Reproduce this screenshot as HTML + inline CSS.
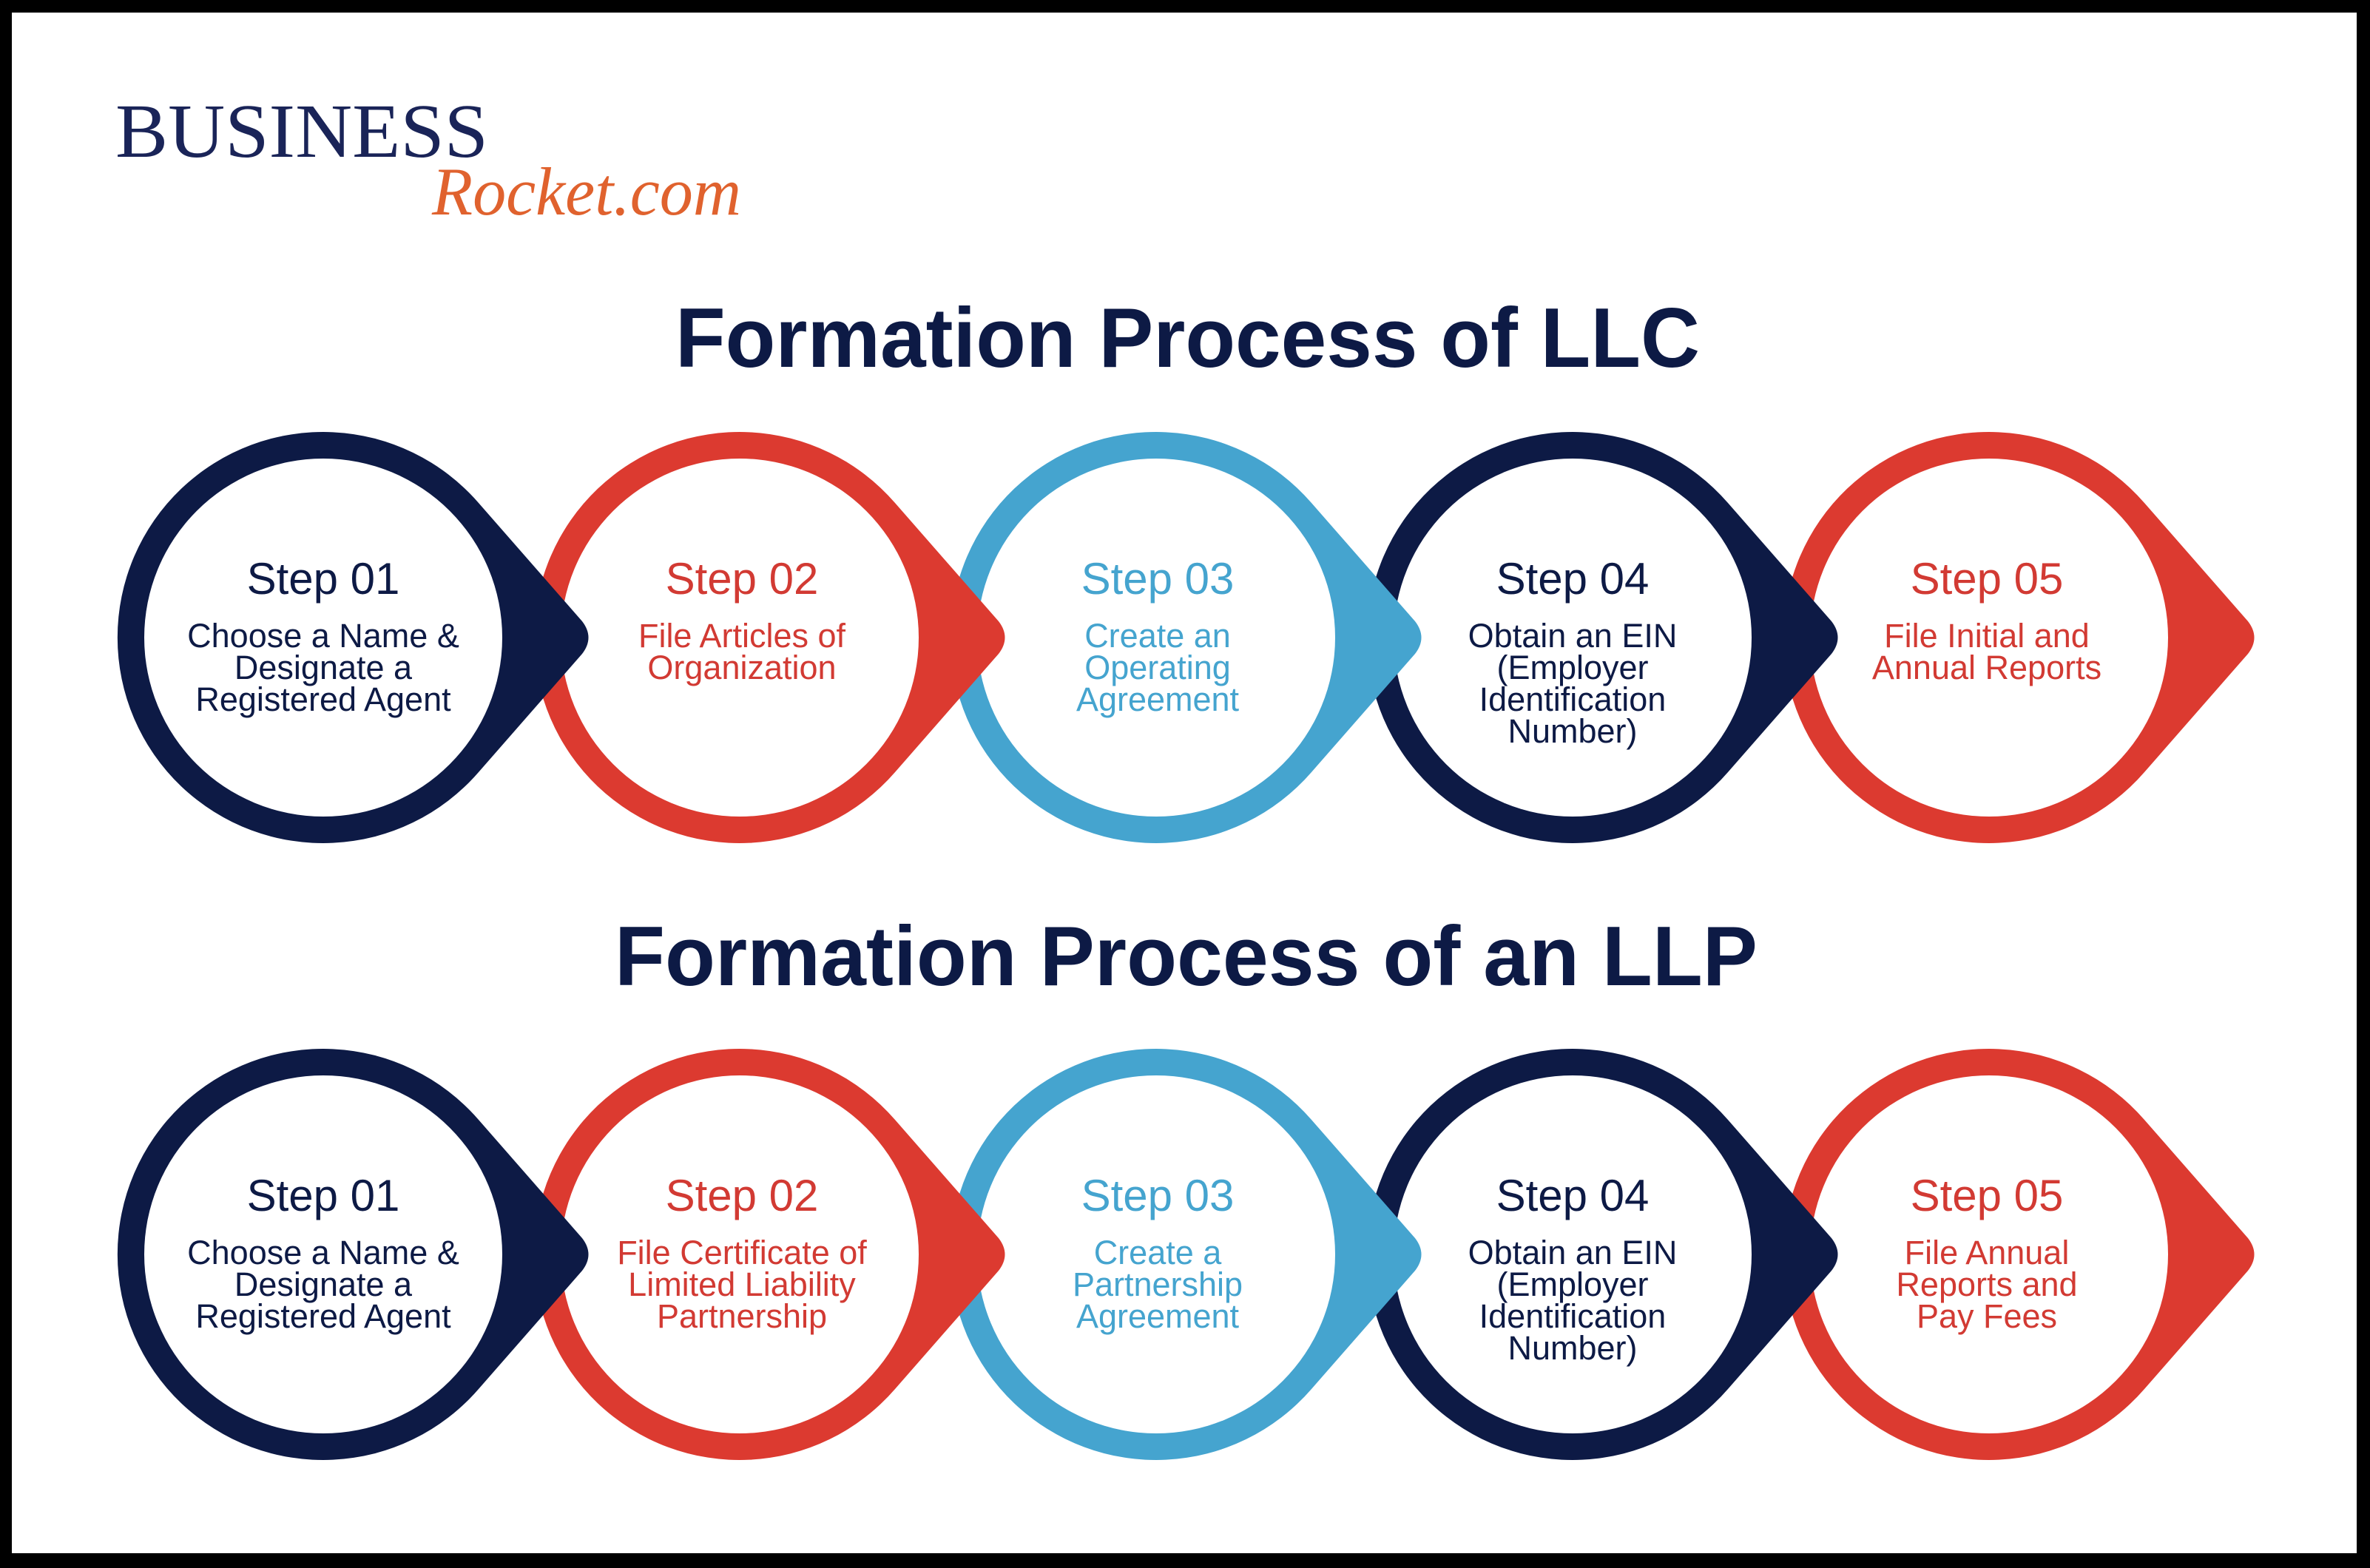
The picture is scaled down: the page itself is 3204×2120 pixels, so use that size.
<!DOCTYPE html>
<html><head><meta charset="utf-8"><style>
html,body{margin:0;padding:0;background:#fff}
svg{display:block}
.s{font-family:"Liberation Sans",sans-serif;text-anchor:middle}
.st{font-size:60px}
.d{font-size:45px}
</style></head><body>
<svg width="3204" height="2120" viewBox="0 0 3204 2120" xmlns="http://www.w3.org/2000/svg">
<rect x="0" y="0" width="3204" height="2120" fill="#000"/>
<rect x="16" y="17" width="3170" height="2083" fill="#fff"/>
<text x="156" y="212" font-family="Liberation Serif,serif" font-size="104" fill="#1a2458" textLength="504" lengthAdjust="spacingAndGlyphs">BUSINESS</text>
<text x="584" y="290" font-family="Liberation Serif,serif" font-style="italic" font-size="92" fill="#e0622e" textLength="418" lengthAdjust="spacingAndGlyphs">Rocket.com</text>
<text x="913" y="496" font-family="Liberation Sans,sans-serif" font-weight="bold" font-size="114" fill="#0d1a45" textLength="1385" lengthAdjust="spacingAndGlyphs">Formation Process of LLC</text>
<text x="831" y="1332" font-family="Liberation Sans,sans-serif" font-weight="bold" font-size="114" fill="#0d1a45" textLength="1545" lengthAdjust="spacingAndGlyphs">Formation Process of an LLP</text>
<defs>
<path id="tear" d="M 210 -182 A 278 278 0 1 0 210 182 L 350 22 Q 367 0 350 -22 Z"/>
</defs>
<!-- Row 1 (drawn right to left) -->
<g transform="translate(2689,862)"><use href="#tear" fill="#dc3a30"/><circle r="242" fill="#fff"/></g>
<g transform="translate(2126,862)"><use href="#tear" fill="#0d1a45"/><circle r="242" fill="#fff"/></g>
<g transform="translate(1563,862)"><use href="#tear" fill="#45a4cf"/><circle r="242" fill="#fff"/></g>
<g transform="translate(1000,862)"><use href="#tear" fill="#dc3a30"/><circle r="242" fill="#fff"/></g>
<g transform="translate(437,862)"><use href="#tear" fill="#0d1a45"/><circle r="242" fill="#fff"/></g>
<!-- Row 2 -->
<g transform="translate(2689,1696)"><use href="#tear" fill="#dc3a30"/><circle r="242" fill="#fff"/></g>
<g transform="translate(2126,1696)"><use href="#tear" fill="#0d1a45"/><circle r="242" fill="#fff"/></g>
<g transform="translate(1563,1696)"><use href="#tear" fill="#45a4cf"/><circle r="242" fill="#fff"/></g>
<g transform="translate(1000,1696)"><use href="#tear" fill="#dc3a30"/><circle r="242" fill="#fff"/></g>
<g transform="translate(437,1696)"><use href="#tear" fill="#0d1a45"/><circle r="242" fill="#fff"/></g>

<!-- Row 1 text -->
<g class="s">
<g fill="#0d1a45"><text class="st" x="437" y="803">Step 01</text>
<text class="d" x="437" y="875">Choose a Name &amp;</text><text class="d" x="437" y="918">Designate a</text><text class="d" x="437" y="961">Registered Agent</text></g>
<g fill="#d23a33"><text class="st" x="1003" y="803">Step 02</text>
<text class="d" x="1003" y="875">File Articles of</text><text class="d" x="1003" y="918">Organization</text></g>
<g fill="#45a4cf"><text class="st" x="1565" y="803">Step 03</text>
<text class="d" x="1565" y="875">Create an</text><text class="d" x="1565" y="918">Operating</text><text class="d" x="1565" y="961">Agreement</text></g>
<g fill="#0d1a45"><text class="st" x="2126" y="803">Step 04</text>
<text class="d" x="2126" y="875">Obtain an EIN</text><text class="d" x="2126" y="918">(Employer</text><text class="d" x="2126" y="961">Identification</text><text class="d" x="2126" y="1004">Number)</text></g>
<g fill="#d23a33"><text class="st" x="2686" y="803">Step 05</text>
<text class="d" x="2686" y="875">File Initial and</text><text class="d" x="2686" y="918">Annual Reports</text></g>
</g>
<!-- Row 2 text -->
<g class="s" transform="translate(0,834)">
<g fill="#0d1a45"><text class="st" x="437" y="803">Step 01</text>
<text class="d" x="437" y="875">Choose a Name &amp;</text><text class="d" x="437" y="918">Designate a</text><text class="d" x="437" y="961">Registered Agent</text></g>
<g fill="#d23a33"><text class="st" x="1003" y="803">Step 02</text>
<text class="d" x="1003" y="875">File Certificate of</text><text class="d" x="1003" y="918">Limited Liability</text><text class="d" x="1003" y="961">Partnership</text></g>
<g fill="#45a4cf"><text class="st" x="1565" y="803">Step 03</text>
<text class="d" x="1565" y="875">Create a</text><text class="d" x="1565" y="918">Partnership</text><text class="d" x="1565" y="961">Agreement</text></g>
<g fill="#0d1a45"><text class="st" x="2126" y="803">Step 04</text>
<text class="d" x="2126" y="875">Obtain an EIN</text><text class="d" x="2126" y="918">(Employer</text><text class="d" x="2126" y="961">Identification</text><text class="d" x="2126" y="1004">Number)</text></g>
<g fill="#d23a33"><text class="st" x="2686" y="803">Step 05</text>
<text class="d" x="2686" y="875">File Annual</text><text class="d" x="2686" y="918">Reports and</text><text class="d" x="2686" y="961">Pay Fees</text></g>
</g>
</svg>
</body></html>
